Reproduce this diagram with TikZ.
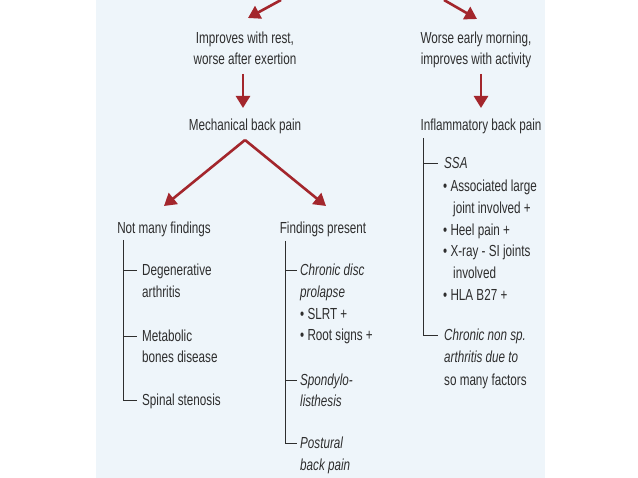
\documentclass[tikz,border=0pt]{standalone}
\usepackage{fontspec}
\setmainfont[FakeStretch=0.73]{Liberation Sans}
\usetikzlibrary{arrows.meta}
\definecolor{arr}{HTML}{A3262C}
\definecolor{bg}{HTML}{EEF5FA}
\definecolor{tx}{HTML}{2E2E2E}
\tikzset{
 t/.style={font=\fontsize{16}{18}\selectfont, text=tx, inner sep=0pt, text height=8.6pt, text depth=2.6pt, yshift=-2.5pt},
 l/.style={t, anchor=west},
 i/.style={l, font=\fontsize{16}{18}\selectfont\itshape},
 ar/.style={draw=arr, line width=2.6pt, -{Triangle[length=12pt,width=14pt]}},
 tr/.style={draw=tx, line width=0.7pt}
}
\begin{document}
\begin{tikzpicture}[x=1pt,y=-1pt]
\useasboundingbox (0,0) rectangle (638,478);
\fill[bg] (96,0) rectangle (545,478);
% top
\coordinate (tl) at (281,0); \coordinate (tr0) at (444,0);
\node[t] (a1) at (245,38) {Improves with rest,};
\node[t] (a2) at (245,59) {worse after exertion};
\node[t] (b1) at (476,38) {Worse early morning,};
\node[t] (b2) at (476,59) {improves with activity};
\draw[ar] (tl) -- (248,18);
\draw[ar] (tr0) -- (477,19);
\node[t] (m) at (245,125) {Mechanical back pain};
\node[t] (n) at (481,125) {Inflammatory back pain};
\draw[ar] (243,74) -- (243,108);
\draw[ar] (481,74) -- (481,108);
\coordinate (pk) at (245,140);
\node[t] (nm) at (164,228) {Not many findings};
\node[t] (fp) at (323,228) {Findings present};
\draw[ar] (pk) -- (164,206);
\draw[ar] (pk) -- (326,206);
% left tree
\draw[tr] (123,240) -- (123,400) -- (137,400);
\draw[tr] (123,270) -- (137,270);
\draw[tr] (123,336) -- (137,336);
\node[l] (d1) at (142,270) {Degenerative};
\node[l] (d2) at (142,292) {arthritis};
\node[l] (e1) at (142,336) {Metabolic};
\node[l] (e2) at (142,357) {bones disease};
\node[l] (f1) at (142,400) {Spinal stenosis};
% middle tree
\draw[tr] (285,241) -- (285,443) -- (297,443);
\draw[tr] (285,270) -- (297,270);
\draw[tr] (285,380) -- (297,380);
\node[i] (g1) at (300,270) {Chronic disc};
\node[i] (g2) at (300,292) {prolapse};
\node[l] (g3) at (300,314) {• SLRT +};
\node[l] (g4) at (300,335) {• Root signs +};
\node[i] (h1) at (300,380) {Spondylo-};
\node[i] (h2) at (300,401) {listhesis};
\node[i] (k1) at (300,443) {Postural};
\node[i] (k2) at (300,465) {back pain};
% right tree
\draw[tr] (423,138) -- (423,335) -- (438,335);
\draw[tr] (423,163) -- (438,163);
\node[i] (s) at (444,163) {SSA};
\node[l] (s1) at (443,186) {• Associated large};
\node[l] (s2) at (453,208) {joint involved +};
\node[l] (s3) at (443,230) {• Heel pain +};
\node[l] (s4) at (443,251) {• X-ray - SI joints};
\node[l] (s5) at (453,273) {involved};
\node[l] (s6) at (443,295) {• HLA B27 +};
\node[i] (c1) at (444,335) {Chronic non sp.};
\node[i] (c2) at (444,357) {arthritis due to};
\node[l] (c3) at (444,380) {so many factors};
\end{tikzpicture}
\end{document}
